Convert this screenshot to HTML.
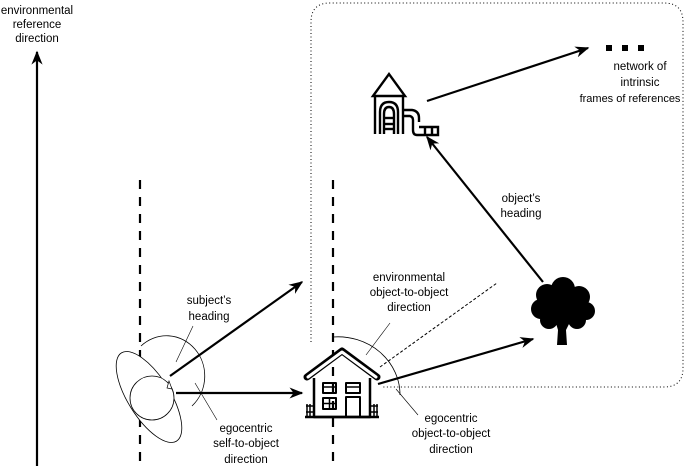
<!DOCTYPE html>
<html><head><meta charset="utf-8"><style>
html,body{margin:0;padding:0;background:#fff}
svg{display:block}
text{font-family:"Liberation Sans",sans-serif;font-size:11.5px;fill:#000;text-anchor:middle}
</style></head><body>
<svg width="685" height="469" viewBox="0 0 685 469" xmlns="http://www.w3.org/2000/svg">
<defs>
<marker id="ah2" viewBox="0 0 10 10" refX="9" refY="5" markerWidth="14" markerHeight="14" orient="auto" markerUnits="userSpaceOnUse">
<path d="M0,1 L10,5 L0,9 L3,5 z" fill="#000"/></marker>
</defs>
<path d="M311,342 L311,22 Q311,3 330,3 L664,3 Q683,3 683,22 L683,368 Q683,387 664,387 L383,387" fill="none" stroke="#000" stroke-width="1" stroke-dasharray="1,2.5"/>
<text x="37" y="14">environmental</text>
<text x="37" y="28">reference</text>
<text x="37" y="42">direction</text>
<line x1="37" y1="466" x2="37" y2="52" stroke="#000" stroke-width="2.2" marker-end="url(#ah2)"/>
<line x1="140" y1="180" x2="140" y2="469" stroke="#000" stroke-width="2.2" stroke-dasharray="9,8"/>
<line x1="333" y1="180" x2="333" y2="469" stroke="#000" stroke-width="2.2" stroke-dasharray="9,8"/>
<ellipse cx="149" cy="397" rx="52" ry="21" transform="rotate(58 149 397)" fill="#fff" stroke="#000" stroke-width="0.8"/>
<circle cx="152" cy="398" r="22" fill="#fff" stroke="#000" stroke-width="0.8"/>
<path d="M169,381 L172,389 L167,388 z" fill="#fff" stroke="#000" stroke-width="0.7"/>
<path d="M141,346 A38,40 0 0 1 192,406" fill="none" stroke="#000" stroke-width="0.8"/>
<line x1="170" y1="376" x2="302" y2="282" stroke="#000" stroke-width="2.2" marker-end="url(#ah2)"/>
<line x1="176" y1="393" x2="302" y2="393" stroke="#000" stroke-width="2.2" marker-end="url(#ah2)"/>
<line x1="193" y1="326" x2="176" y2="362" stroke="#000" stroke-width="0.6"/>
<line x1="195" y1="383" x2="217" y2="420" stroke="#000" stroke-width="0.6"/>
<text x="209" y="304">subject’s</text>
<text x="209" y="320">heading</text>
<text x="246" y="432">egocentric</text>
<text x="246" y="447">self-to-object</text>
<text x="246" y="463">direction</text>
<path d="M333,337 A62,58 0 0 1 400,395" fill="none" stroke="#000" stroke-width="0.8"/>
<line x1="380" y1="367" x2="497" y2="283" stroke="#000" stroke-width="1" stroke-dasharray="3,2"/>
<line x1="378" y1="384" x2="533" y2="339" stroke="#000" stroke-width="2.2" marker-end="url(#ah2)"/>
<g stroke="#000" fill="none" stroke-linejoin="round">
<path d="M307,377 L342,351 L377,377" stroke-width="7" stroke-linecap="round"/>
<path d="M308,377 L342,352 L376,377" stroke="#fff" stroke-width="3" stroke-linecap="round"/>
<path d="M314,378 L314,417 L370,417 L370,378" stroke-width="2.5"/>
<rect x="323" y="383" width="13" height="10" stroke-width="2"/>
<line x1="323" y1="387" x2="336" y2="387" stroke-width="1.5"/>
<rect x="346" y="383" width="14" height="10" stroke-width="2"/>
<line x1="346" y1="387" x2="360" y2="387" stroke-width="1.5"/>
<rect x="323" y="398" width="13" height="11" stroke-width="2"/>
<line x1="329.5" y1="398" x2="329.5" y2="409" stroke-width="1.5"/>
<line x1="323" y1="403.5" x2="336" y2="403.5" stroke-width="1.5"/>
<rect x="346" y="397" width="14" height="20" stroke-width="2"/>
<path d="M306,406 L314,406 M306,412 L314,412 M307,404 L307,417 M310,404 L310,417 M370,406 L378,406 M370,412 L378,412 M374,404 L374,417 M377,404 L377,417" stroke-width="1.5"/>
<line x1="305" y1="417" x2="379" y2="417" stroke-width="2.5"/>
</g>
<line x1="390" y1="323" x2="366" y2="355" stroke="#000" stroke-width="0.6"/>
<line x1="396" y1="389" x2="418" y2="415" stroke="#000" stroke-width="0.6"/>
<text x="409" y="281">environmental</text>
<text x="409" y="296">object-to-object</text>
<text x="409" y="311">direction</text>
<text x="451" y="422">egocentric</text>
<text x="451" y="437">object-to-object</text>
<text x="451" y="453">direction</text>
<g fill="#000">
<circle cx="547" cy="295" r="11"/><circle cx="563" cy="289" r="12"/><circle cx="579" cy="297" r="11"/>
<circle cx="541" cy="309" r="10"/><circle cx="586" cy="311" r="9"/><circle cx="562" cy="306" r="17"/>
<circle cx="549" cy="320" r="9"/><circle cx="577" cy="320" r="9"/>
<path d="M555,320 L571,320 L566,330 L567,345 L557,345 L558,330 z"/>
</g>
<line x1="543" y1="282" x2="427" y2="137" stroke="#000" stroke-width="2.2" marker-end="url(#ah2)"/>
<text x="521" y="202">object’s</text>
<text x="521" y="217">heading</text>
<g stroke="#000" fill="none" stroke-width="2.4">
<path d="M373,96 L389,74 L405,96 Z"/>
<line x1="375" y1="96" x2="375" y2="134"/>
<line x1="403" y1="96" x2="403" y2="134"/>
<path d="M380,134 L380,112 Q380,102 389,102 Q398,102 398,112 L398,134"/>
<path d="M384,134 L384,114 Q384,107 389,107 Q394,107 394,114 L394,134"/>
<line x1="384" y1="118" x2="394" y2="118"/><line x1="384" y1="124" x2="394" y2="124"/><line x1="384" y1="129" x2="394" y2="129"/>
<path d="M403,110 L412,110 Q419,111 419,118 L419,122 M403,116 L410,116 Q413,117 413,120 L413,130 Q413,135 417,135 L438,135 L438,127 L419,127 M425,127 L425,135 M432,127 L432,135"/>
</g>
<line x1="427" y1="101" x2="588" y2="48" stroke="#000" stroke-width="2.2" marker-end="url(#ah2)"/>
<rect x="606" y="45" width="6" height="6" fill="#000"/>
<rect x="622" y="45" width="6" height="6" fill="#000"/>
<rect x="638" y="45" width="6" height="6" fill="#000"/>
<text x="640" y="70">network of</text>
<text x="640" y="86">intrinsic</text>
<text x="630" y="102" style="font-size:11px">frames of references</text>
</svg>
</body></html>
